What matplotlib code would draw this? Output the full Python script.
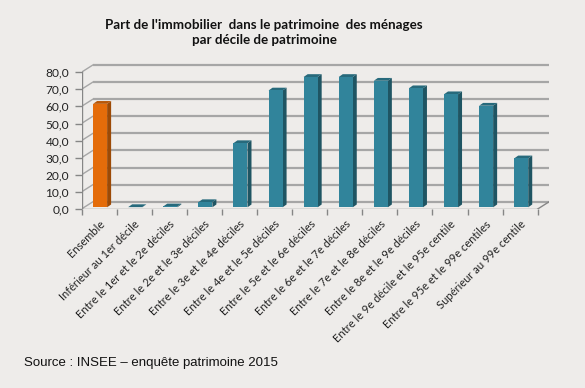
import matplotlib
matplotlib.use("Agg")
import matplotlib.pyplot as plt
from matplotlib.patches import Polygon, Rectangle
from matplotlib.transforms import ScaledTranslation

categories = ["Ensemble", "Inférieur au 1er décile", "Entre le 1er et le 2e déciles",
              "Entre le 2e et le 3e déciles", "Entre le 3e et le 4e déciles",
              "Entre le 4e et le 5e déciles", "Entre le 5e et le 6e déciles",
              "Entre le 6e et le 7e déciles", "Entre le 7e et le 8e déciles",
              "Entre le 8e et le 9e déciles", "Entre le 9e décile et le 95e centile",
              "Entre le 95e et le 99e centiles", "Supérieur au 99e centile"]
values = [60.5, 0.1, 0.5, 3.0, 37.5, 68.3, 76.2, 76.2, 74.0, 69.6, 66.1, 59.4, 28.6]
yticks = [0, 10, 20, 30, 40, 50, 60, 70, 80]
ytick_labels = ["0,0", "10,0", "20,0", "30,0", "40,0", "50,0", "60,0", "70,0", "80,0"]
title = "Part de l'immobilier  dans le patrimoine  des ménages\npar décile de patrimoine"
source = "Source : INSEE – enquête patrimoine 2015"

W, H = 585, 388
bg = "#EEECEA"
fig = plt.figure(figsize=(W / 100, H / 100), dpi=100, facecolor=bg)

# geometry in pixels
x_front_left, x_front_right = 81.5, 537.7
y_zero = 209.0
px_per_unit = 1.71
wall_dx_px, wall_dy_px = 11.5, 7.3
n = len(categories)
cat_px = (x_front_right - x_front_left) / n
wall_dx = wall_dx_px / cat_px
wall_dy = wall_dy_px / px_per_unit
ymax = 86.0
left = x_front_left / W
width = (x_front_right + wall_dx_px - x_front_left) / W
bottom = (H - y_zero) / H
height = ymax * px_per_unit / H
ax = fig.add_axes([left, bottom, width, height])
ax.set_facecolor("none")
ax.set_xlim(-0.5, n - 0.5 + wall_dx)
ax.set_ylim(0, ymax)
for s in ax.spines.values():
    s.set_visible(False)

grid_c = "#A6A6A6"
axis_c = "#868686"
# back wall gridlines + left wall diagonals
for k in yticks:
    ax.plot([-0.5 + wall_dx, n - 0.5 + wall_dx], [k + wall_dy, k + wall_dy],
            color=grid_c, lw=1.6, solid_capstyle="butt", zorder=1)
    ax.plot([-0.5, -0.5 + wall_dx], [k, k + wall_dy], color=grid_c, lw=1.0, zorder=1)
# front axis lines
ax.plot([-0.5, -0.5], [0, 80], color=axis_c, lw=1.0, zorder=2)
ax.plot([-0.5, n - 0.5], [0, 0], color=axis_c, lw=1.0, zorder=2)
ax.plot([n - 0.5, n - 0.5 + wall_dx], [0, wall_dy], color=axis_c, lw=1.0, zorder=2)

# bars
bw = 0.4
ddx = 4.0 / cat_px
ddy = 2.8 / px_per_unit
base_dx = 0.03
base_dy = 1.0
for i, v in enumerate(values):
    if i == 0:
        front, side, top = "#E46C0A", "#9C4A06", "#B85708"
    else:
        front, side, top = "#31849B", "#1F5563", "#276A7C"
    x0 = i - bw / 2 + base_dx
    x1 = i + bw / 2 + base_dx
    y0 = base_dy
    y1 = base_dy + v
    ax.add_patch(Polygon([(x1, y0), (x1 + ddx, y0 + ddy), (x1 + ddx, y1 + ddy), (x1, y1)],
                         closed=True, facecolor=side, edgecolor="none", zorder=3))
    ax.add_patch(Polygon([(x0, y1), (x1, y1), (x1 + ddx, y1 + ddy), (x0 + ddx, y1 + ddy)],
                         closed=True, facecolor=top, edgecolor="none", zorder=3))
    ax.add_patch(Rectangle((x0, y0), bw, v, facecolor=front, edgecolor="none", zorder=4))

# ticks
ax.set_xticks(range(n))
ax.set_xticklabels(categories, rotation=45, ha="right", rotation_mode="anchor",
                   fontsize=8.0, color="#222222", family="Lato")
shift = ScaledTranslation(-7 / 100, 0, fig.dpi_scale_trans)
for lab in ax.get_xticklabels():
    lab.set_transform(lab.get_transform() + shift)
ax.set_xticks([i - 0.5 for i in range(n + 1)], minor=True)
ax.tick_params(axis="x", which="major", length=0, pad=7)
ax.tick_params(axis="x", which="minor", length=4, color=axis_c, width=1.0)
ax.set_yticks(yticks)
ax.set_yticklabels(ytick_labels, fontsize=8.6, color="#222222", family="Lato")
ax.tick_params(axis="y", length=5, color=axis_c, width=1.0, pad=4)
ax.yaxis.set_ticks_position("left")

fig.text(264 / W, 1 - 32.5 / H, title, ha="center", va="center", fontsize=9.6,
         fontweight="bold", family="Lato", color="#111111", linespacing=1.3)
fig.text(24 / W, 1 - 363 / H, source, ha="left", va="center", fontsize=9.5,
         family="Liberation Sans", color="#111111")

fig.savefig("out.png", dpi=100, facecolor=bg)
